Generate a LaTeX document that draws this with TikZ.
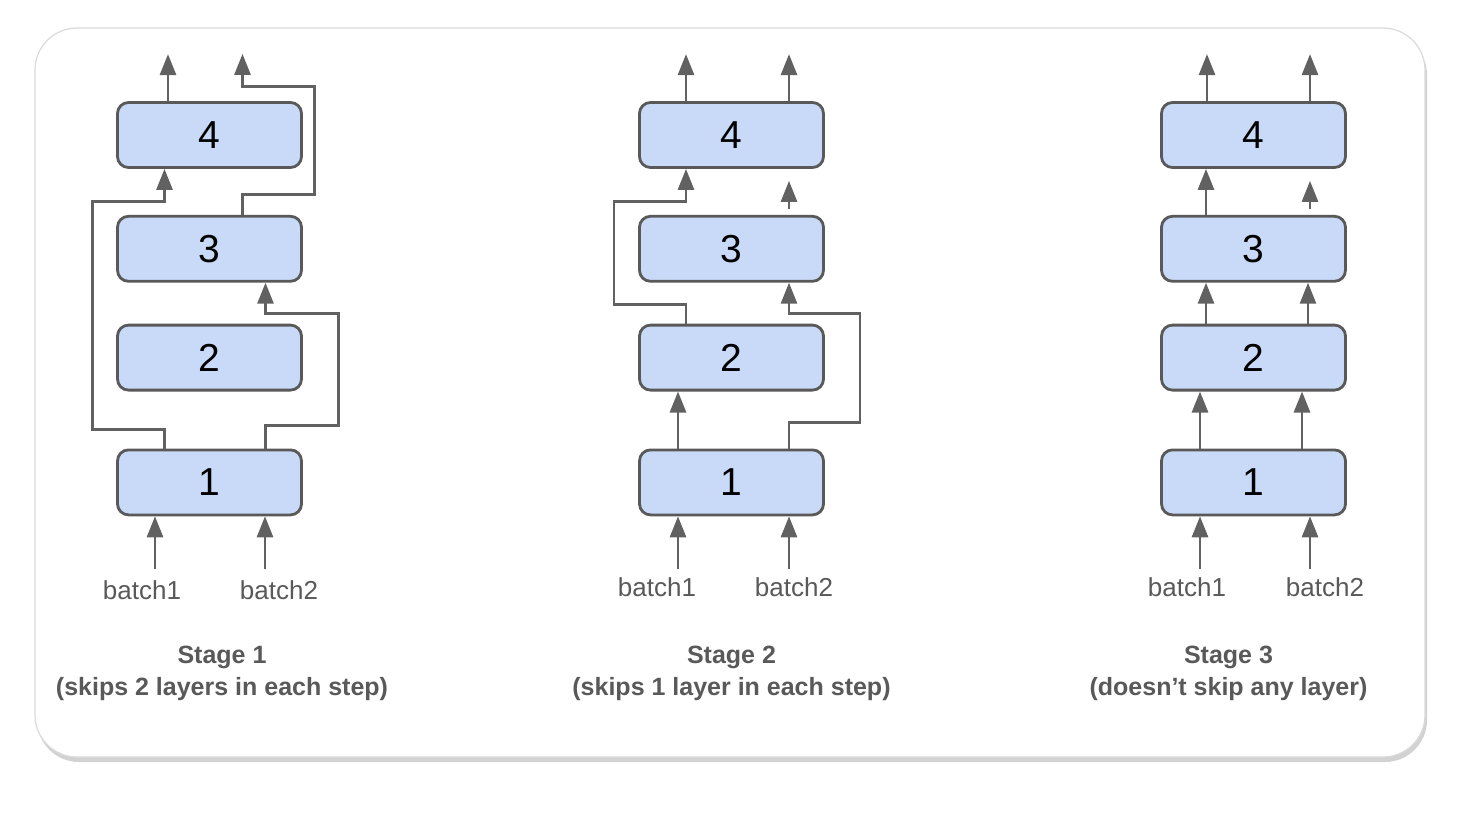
\documentclass[tikz,border=0pt]{standalone}
\usepackage{fontspec}
\setmainfont{Liberation Sans}
\usetikzlibrary{arrows.meta,shadows,positioning}
\definecolor{boxblue}{HTML}{C9DAF8}
\definecolor{edgegray}{HTML}{595959}
\definecolor{arrowgray}{HTML}{616161}
\definecolor{framegray}{HTML}{DADADA}

\begin{document}
\begin{tikzpicture}[x=1pt,y=-1pt,
layer/.style={
  draw=edgegray,
  fill=boxblue,
  line width=2.8pt,
  rounded corners=11pt,
  minimum width=184pt,
  minimum height=65pt,
  inner sep=0pt,
  font=\fontsize{39}{40}\selectfont
},
flow/.style={
  draw=arrowgray,
  line width=2.8pt,
  -{Triangle[length=21pt,width=16pt]}
},
batch/.style={
  text=edgegray,
  inner sep=3pt,
  font=\fontsize{26}{28}\selectfont
},
stage/.style={
  text=edgegray,
  align=center,
  font=\fontsize{25}{32}\selectfont\bfseries
}
]
\useasboundingbox (0,0) rectangle (1460,840);
\draw[framegray,line width=1.2pt,fill=white,rounded corners=42pt,
  drop shadow={shadow xshift=2pt,shadow yshift=-5pt,opacity=0.25,fill=black!70}]
  (35,28) rectangle (1425,757);

% the four layers of every stage
\foreach \s/\x in {1/209.5,2/731.5,3/1253.5}{
  \node[layer] (st\s-l4) at (\x,135) {4};
  \node[layer,below=46pt of st\s-l4] (st\s-l3) {3};
  \node[layer,below=41pt of st\s-l3] (st\s-l2) {2};
  \node[layer,below=57pt of st\s-l2] (st\s-l1) {1};
}

% stage 1
\node[batch] (st1-in1) at (142,590) {batch1};
\node[batch] (st1-in2) at (279,590) {batch2};
\node[stage] (st1-title) at (222,673) {Stage 1\\(skips 2 layers in each step)};

\draw[flow] ([xshift=13pt,yshift=8pt]st1-in1.north) -- ([xshift=-54.5pt]st1-l1.south);
\draw[flow] ([xshift=-14pt,yshift=8pt]st1-in2.north) -- ([xshift=55.5pt]st1-l1.south);
\draw[flow] ([xshift=-45pt]st1-l1.north) -- ++(0,-19) -| ++(-72,-228)
  -| ([xshift=-45pt]st1-l4.south);
\draw[flow] ([xshift=56pt]st1-l1.north) |- ++(73,-23) -- ++(0,-112)
  -| ([xshift=56pt]st1-l3.south);
\draw[flow] ([xshift=33pt]st1-l3.north) |- ++(72,-20) |- ++(-72,-108) -- ++(0,-33);
\draw[flow] ([xshift=-41.5pt]st1-l4.north) -- ++(0,-47);

% stage 2
\node[batch] (st2-in1) at (657,587) {batch1};
\node[batch] (st2-in2) at (794,587) {batch2};
\node[stage] (st2-title) at (731.5,673) {Stage 2\\(skips 1 layer in each step)};

\draw[flow] ([xshift=21pt,yshift=5pt]st2-in1.north) -- ([xshift=-53.5pt]st2-l1.south);
\draw[flow] ([xshift=-5pt,yshift=5pt]st2-in2.north) -- ([xshift=57.5pt]st2-l1.south);
\draw[flow] ([xshift=-53.5pt]st2-l1.north) -- ([xshift=-53.5pt]st2-l2.south);
\draw[flow] ([xshift=57.5pt]st2-l1.north) |- ++(71,-26) -- ++(0,-109)
  -| ([xshift=57.5pt]st2-l3.south);
\draw[flow] ([xshift=-45.5pt]st2-l2.north) -- ++(0,-19) -| ++(-72,-103)
  -| ([xshift=-45.5pt]st2-l4.south);
\draw[flow] ([xshift=57.5pt,yshift=6pt]st2-l3.north) -- ++(0,-28);
\draw[flow] ([xshift=-45.5pt]st2-l4.north) -- ++(0,-47);
\draw[flow] ([xshift=57.5pt]st2-l4.north) -- ++(0,-47);

% stage 3
\node[batch] (st3-in1) at (1187,587) {batch1};
\node[batch] (st3-in2) at (1325,587) {batch2};
\node[stage] (st3-title) at (1228.5,673) {Stage 3\\(doesn’t skip any layer)};

\draw[flow] ([xshift=13pt,yshift=5pt]st3-in1.north) -- ([xshift=-53.5pt]st3-l1.south);
\draw[flow] ([xshift=-15pt,yshift=5pt]st3-in2.north) -- ([xshift=56.5pt]st3-l1.south);
\draw[flow] ([xshift=-53.5pt]st3-l1.north) -- ([xshift=-53.5pt]st3-l2.south);
\draw[flow] ([xshift=48.5pt]st3-l1.north) -- ([xshift=48.5pt]st3-l2.south);
\draw[flow] ([xshift=-47.5pt]st3-l2.north) -- ([xshift=-47.5pt]st3-l3.south);
\draw[flow] ([xshift=54.5pt]st3-l2.north) -- ([xshift=54.5pt]st3-l3.south);
\draw[flow] ([xshift=-47.5pt]st3-l3.north) -- ([xshift=-47.5pt]st3-l4.south);
\draw[flow] ([xshift=56.5pt,yshift=6pt]st3-l3.north) -- ++(0,-28);
\draw[flow] ([xshift=-46.5pt]st3-l4.north) -- ++(0,-47);
\draw[flow] ([xshift=56.5pt]st3-l4.north) -- ++(0,-47);
\end{tikzpicture}
\end{document}
